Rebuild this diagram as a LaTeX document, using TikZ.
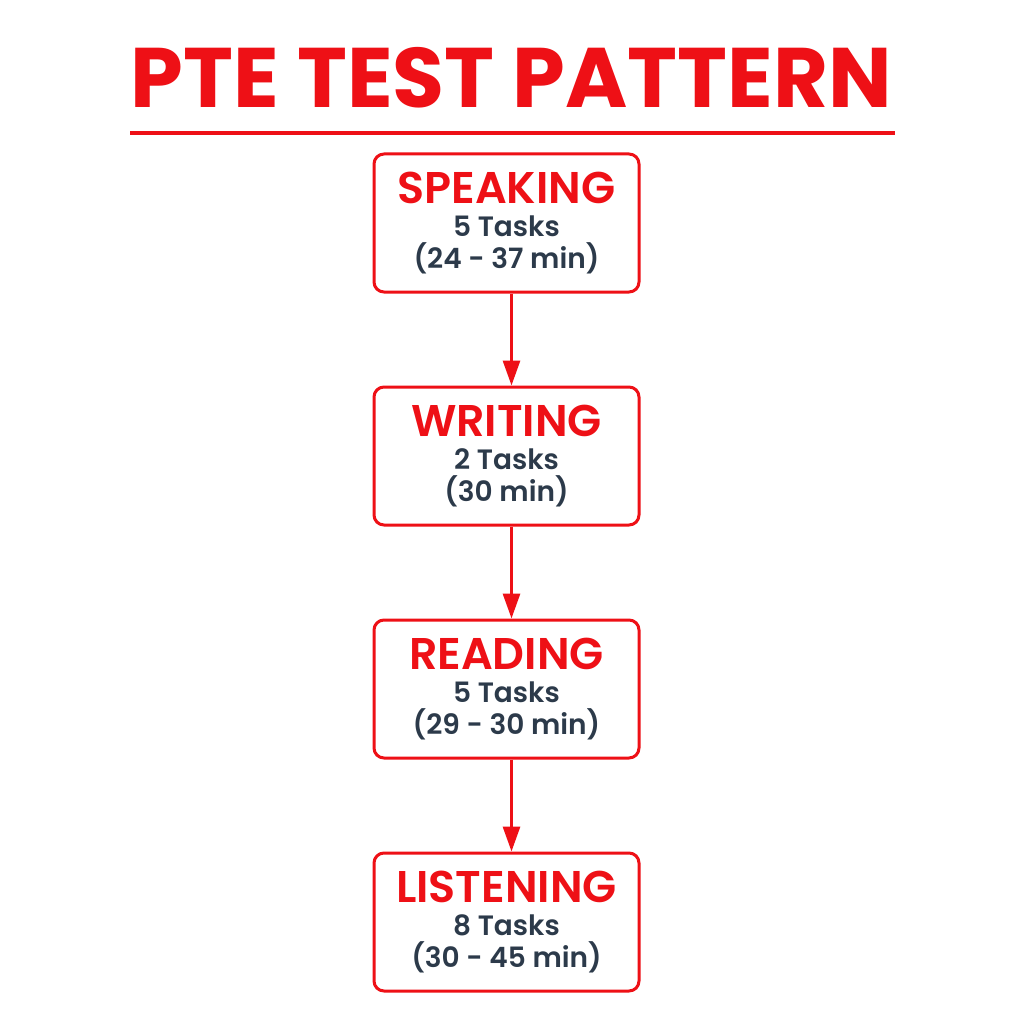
\documentclass[tikz,border=0pt]{standalone}
\usepackage{fontspec}
\usepackage{tikz}
\setmainfont{Poppins}
\newfontfamily\poppinssemi{Poppins SemiBold}
\usetikzlibrary{positioning,arrows.meta}

\definecolor{pteRed}{RGB}{238,16,22}
\definecolor{pteSlate}{RGB}{44,58,74}

\newcommand\titlefont{\fontsize{84.5}{90}\selectfont\bfseries}
\newcommand\headfont{\poppinssemi\fontsize{44.4}{46}\selectfont\color{pteRed}}
\newcommand\taskfont{\poppinssemi\fontsize{28}{32}\selectfont\color{pteSlate}}
\newcommand\partbox[3]{{\headfont #1}\\[1pt]#2\\#3}

\tikzset{
	part/.style={draw=pteRed,line width=3pt,rounded corners=10pt,fill=white,
		minimum width=265pt,minimum height=138pt,inner sep=0pt,align=center,
		font=\taskfont},
	flow/.style={draw=pteRed,line width=3pt,-{Triangle[length=25pt,width=17pt]}}
}

\begin{document}
\begin{tikzpicture}[x=1pt,y=1pt]
		\useasboundingbox[fill=white] (0,0) rectangle (1024,-1024);
		\node(title)[anchor=base,text=pteRed,font=\titlefont,inner sep=0pt]
			at (511.5,-108) {PTE TEST PATTERN};
		\coordinate(ruleL) at (130,-133);
		\coordinate(ruleR) at (895,-133);
		\draw[pteRed,line width=4pt] (ruleL) -- (ruleR);
		\node(speaking)[part] at (506.5,-223) {\partbox{SPEAKING}{5 Tasks}{(24 - 37 min)}};
		\node(writing)[part,below=92pt of speaking] {\partbox{WRITING}{2 Tasks}{(30 min)}};
		\node(reading)[part,below=92pt of writing] {\partbox{READING}{5 Tasks}{(29 - 30 min)}};
		\node(listening)[part,below=92pt of reading] {\partbox{LISTENING}{8 Tasks}{(30 - 45 min)}};
		% connectors sit a little right of the box centres
		\foreach \from/\to in {speaking/writing,writing/reading,reading/listening}{
			\draw[flow] ([xshift=5pt]\from.south) -- ([xshift=5pt]\to.north);
		}
	\end{tikzpicture}
\end{document}
